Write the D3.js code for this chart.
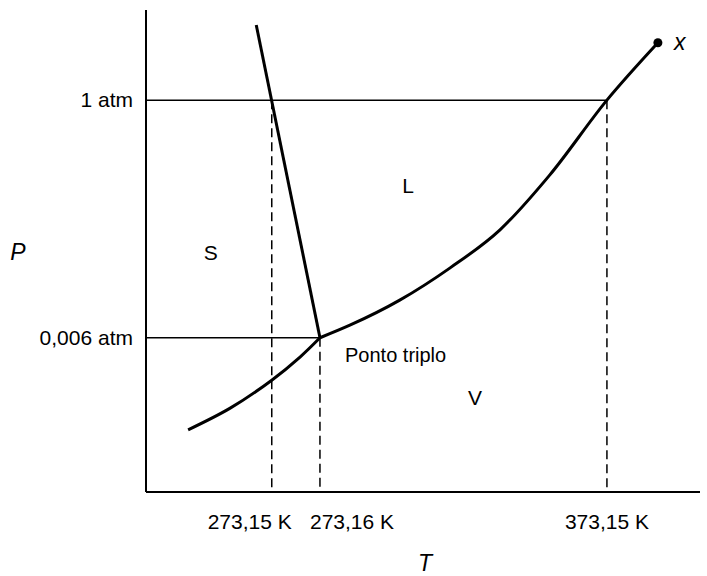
<!DOCTYPE html>
<html><head><meta charset="utf-8">
<script src="https://cdn.jsdelivr.net/npm/d3@7"></script>
<style>body{margin:0;background:#fff}svg{font-family:"Liberation Sans",Arial,sans-serif}</style>
</head><body><svg id="c" width="707" height="576"></svg>
<script>
// Abstract units (0-100) for T and P
const tickTemps = [22.7, 31.4, 83.2];
const tickLabels = ["273,15 K", "273,16 K", "373,15 K"];
const pLevels = [81.3, 32.0];
const pLabels = ["1 atm", "0,006 atm"];
const triple = [31.4, 32.0];
const meltTop = [19.9, 96.9];
const sublimation = [[7.6,12.9],[15.2,17.4],[22.7,23.2],[27.8,28.0],[31.4,32.0]];
const vaporization = [[31.4,32.0],[36.8,34.6],[45.8,39.8],[54.9,46.5],[63.9,54.4],[72.9,65.8],[83.2,81.3],[92.4,93.2]];
const regions = [["S",11.7,49.6],["L",47.3,63.5],["V",59.4,19.5]];

const svg = d3.select("#c");
const x = d3.scaleLinear().domain([0,100]).range([146,700]);
const y = d3.scaleLinear().domain([0,100]).range([492,10]);
const line = d3.line().x(d=>x(d[0])).y(d=>y(d[1])).curve(d3.curveMonotoneX);

svg.append("line").attr("x1",x(0)).attr("x2",x(0)).attr("y1",y(100)).attr("y2",y(0)).attr("stroke","#000").attr("stroke-width",2);
svg.append("line").attr("x1",x(0)).attr("x2",x(100)).attr("y1",y(0)).attr("y2",y(0)).attr("stroke","#000").attr("stroke-width",2);

const hEnds = [83.2, 31.4];
pLevels.forEach((p,i)=>{
  svg.append("line").attr("x1",x(0)).attr("x2",x(hEnds[i])).attr("y1",y(p)).attr("y2",y(p)).attr("stroke","#000").attr("stroke-width",1.5);
  svg.append("text").attr("x",133).attr("y",y(p)+7).attr("text-anchor","end").attr("font-size",21).text(pLabels[i]);
});

const vTops = [81.3, 32.0, 81.3];
const anchors = ["end","start","middle"];
const offs = [20, -10, 0];
tickTemps.forEach((t,i)=>{
  svg.append("line").attr("x1",x(t)).attr("x2",x(t)).attr("y1",y(vTops[i])).attr("y2",y(0)).attr("stroke","#000").attr("stroke-width",1.5).attr("stroke-dasharray","9,5");
  svg.append("text").attr("x",x(t)+offs[i]).attr("y",529).attr("text-anchor",anchors[i]).attr("font-size",21).text(tickLabels[i]);
});

svg.append("line").attr("x1",x(meltTop[0])).attr("y1",y(meltTop[1])).attr("x2",x(triple[0])).attr("y2",y(triple[1])).attr("stroke","#000").attr("stroke-width",3);
svg.append("path").attr("d",d3.line().x(d=>x(d[0])).y(d=>y(d[1])).curve(d3.curveCatmullRom)(sublimation)).attr("fill","none").attr("stroke","#000").attr("stroke-width",3);
svg.append("path").attr("d",line(vaporization)).attr("fill","none").attr("stroke","#000").attr("stroke-width",3);
const last = vaporization[vaporization.length-1];
svg.append("circle").attr("cx",x(last[0])).attr("cy",y(last[1])).attr("r",4.5).attr("fill","#000");
svg.append("text").attr("x",x(last[0])+16).attr("y",y(last[1])+7).attr("font-size",23).attr("font-style","italic").text("x");

regions.forEach(r=>svg.append("text").attr("x",x(r[1])).attr("y",y(r[2])+7).attr("text-anchor","middle").attr("font-size",21).text(r[0]));
svg.append("text").attr("x",345).attr("y",362).attr("font-size",20).text("Ponto triplo");

svg.append("text").attr("x",18).attr("y",260).attr("text-anchor","middle").attr("font-size",23).attr("font-style","italic").text("P");
svg.append("text").attr("x",425).attr("y",571).attr("text-anchor","middle").attr("font-size",23).attr("font-style","italic").text("T");
</script></body></html>
